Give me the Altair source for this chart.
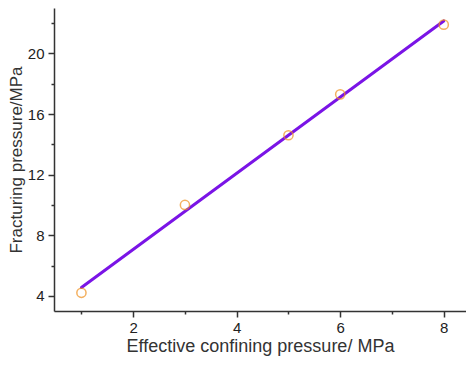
import altair as alt
import pandas as pd

x_vals = [1, 3, 5, 6, 8]
y_vals = [4.2, 10.0, 14.6, 17.3, 21.9]
x_major = [2, 4, 6, 8]
x_minor = [1, 3, 5, 7]
y_major = [4, 8, 12, 16, 20]
y_minor = [6, 10, 14, 18, 22]

df = pd.DataFrame({"x": x_vals, "y": y_vals})

font = "Liberation Sans"
xs = alt.Scale(domain=[0.47, 8.43], nice=False, zero=False)
ys = alt.Scale(domain=[3, 23], nice=False, zero=False)

major_x = alt.Axis(values=x_major, orient="bottom", tickSize=6, labelFontSize=15, titleFontSize=18,
                   labelFont=font, titleFont=font, labelColor="#222", titleColor="#333",
                   titleFontWeight="normal", domainColor="#333", tickColor="#333",
                   domainWidth=1.5, tickWidth=1.5, grid=False, labelPadding=3, titlePadding=2)
major_y = alt.Axis(values=y_major, orient="left", tickSize=6, labelFontSize=15, titleFontSize=17,
                   labelFont=font, titleFont=font, labelColor="#222", titleColor="#333",
                   titleFontWeight="normal", domainColor="#333", tickColor="#333",
                   domainWidth=1.5, tickWidth=1.5, grid=False, labelPadding=4, titlePadding=2)
minor_x = alt.Axis(values=x_minor, orient="bottom", tickSize=3, labels=False, domain=False,
                   title=None, tickColor="#333", tickWidth=1.5, grid=False)
minor_y = alt.Axis(values=y_minor, orient="left", tickSize=3, labels=False, domain=False,
                   title=None, tickColor="#333", tickWidth=1.5, grid=False)

base = alt.Chart(df)

points = base.mark_point(shape="circle", filled=False, color="#F0901E", size=85, strokeWidth=1.5).encode(
    x=alt.X("x:Q", scale=xs, axis=major_x, title="Effective confining pressure/ MPa"),
    y=alt.Y("y:Q", scale=ys, axis=major_y, title="Fracturing pressure/MPa"),
)

line = base.transform_regression("x", "y", extent=[1, 8]).mark_line(
    color="#7A14E6", strokeWidth=3, strokeCap="round"
).encode(
    x=alt.X("x:Q", scale=xs, axis=minor_x),
    y=alt.Y("y:Q", scale=ys, axis=minor_y),
)

chart = alt.layer(line, points).resolve_axis(x="independent", y="independent").properties(
    width=412, height=303,
    autosize=alt.AutoSizeParams(type="none"),
    padding={"left": 46, "top": 0, "right": 0, "bottom": 48},
).configure_view(stroke=None)

chart.save("out.html", embed_options={"renderer": "svg", "actions": False})
